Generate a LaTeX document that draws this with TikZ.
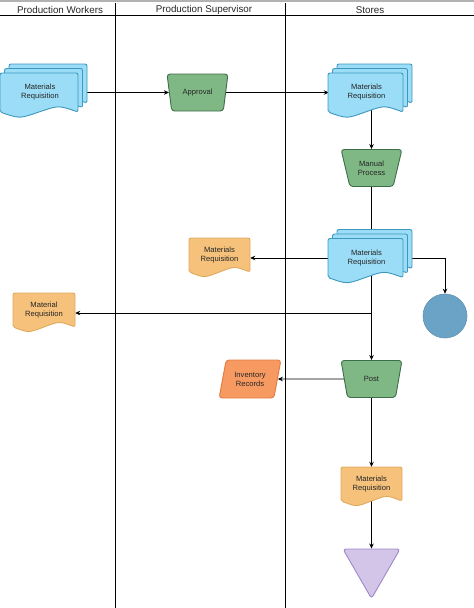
\documentclass[tikz,border=0pt]{standalone}
\usepackage{fontspec}
\setmainfont{Liberation Sans}
\usetikzlibrary{shapes.geometric,arrows.meta}

\definecolor{reqblue}{HTML}{9BDDF6}
\definecolor{reqblueline}{HTML}{3C98BE}
\definecolor{stepgreen}{HTML}{80B885}
\definecolor{stepgreenline}{HTML}{3D6E4A}
\definecolor{formorange}{HTML}{F6C27B}
\definecolor{formorangeline}{HTML}{DFA95E}
\definecolor{recorange}{HTML}{F79A62}
\definecolor{recorangeline}{HTML}{E27A3E}
\definecolor{fileblue}{HTML}{6BA3C6}
\definecolor{endpurple}{HTML}{D3C5E8}
\definecolor{endpurpleline}{HTML}{9E88C9}

\pgfdeclarelayer{background}
\pgfsetlayers{background,main}

\tikzset{
  lane/.style={draw=black, line width=0.8pt},
  lanetitle/.style={font=\fontsize{9.8}{11}\selectfont, text=black!85},
  label/.style={font=\fontsize{7.6}{9}\selectfont, align=center, text=black!85, inner sep=0pt},
  bluesheet/.style={fill=reqblue, draw=reqblueline, line width=0.9pt},
  orangesheet/.style={fill=formorange, draw=formorangeline, line width=0.9pt},
  manual/.style={trapezium, shape border rotate=180, trapezium stretches=true,
    trapezium left angle=69, trapezium right angle=69,
    minimum width=61pt, minimum height=37pt, rounded corners=3pt,
    fill=stepgreen, draw=stepgreenline, line width=0.9pt, label},
  records/.style={trapezium, trapezium stretches=true,
    trapezium left angle=72, trapezium right angle=108,
    minimum width=62pt, minimum height=38pt, rounded corners=3pt,
    fill=recorange, draw=recorangeline, line width=0.9pt, label},
  flow/.style={draw=black, line width=0.8pt, -{Stealth[length=5pt,width=4.5pt]}}
}

% sheet with a wavy lower edge: style, centre x, centre y, width, height
\newcommand{\paperdoc}[5]{%
  \pgfmathsetmacro\docL{#2-#4/2}%
  \pgfmathsetmacro\docR{#2+#4/2}%
  \pgfmathsetmacro\docC{#2}%
  \pgfmathsetmacro\docT{#3-#5/2}%
  \pgfmathsetmacro\docB{#3+#5/2}%
  \pgfmathsetmacro\docQ{#2+#4/4}%
  \pgfmathsetmacro\docP{#2-#4/4}%
  \pgfmathsetmacro\docU{#3+#5/2-0.17*#5}%
  \pgfmathsetmacro\docD{#3+#5/2+0.17*#5}%
  \draw[#1, rounded corners=2pt] (\docL,\docB) -- (\docL,\docT) -- (\docR,\docT)
    -- (\docR,\docB)
    .. controls (\docQ,\docU) .. (\docC,\docB)
    .. controls (\docP,\docD) .. (\docL,\docB) -- cycle;
}
% three sheets, the front one drawn last
\newcommand{\stackdoc}[5]{%
  \paperdoc{#1}{#2+9}{#3-9}{#4}{#5}%
  \paperdoc{#1}{#2+4.5}{#3-4.5}{#4}{#5}%
  \paperdoc{#1}{#2}{#3}{#4}{#5}%
}

\begin{document}
\begin{tikzpicture}[x=1pt, y=-1pt]
\useasboundingbox (0,0) rectangle (474,608);

% swim lanes
\draw[gray!60, line width=1.5pt] (0,0.75) -- (474,0.75);
\draw[lane] (0,15) -- (474,15);
\draw[lane] (115,3) -- (115,608);
\draw[lane] (285,3) -- (285,608);
\node[lanetitle] (hwork) at (60,10) {Production Workers};
\node[lanetitle] (hsup) at (204,10) {Production Supervisor};
\node[lanetitle] (hstore) at (370,10) {Stores};

% production workers
\stackdoc{bluesheet}{39}{92.5}{78}{39}
\node[label, minimum width=78pt, minimum height=39pt] (wreq) at (40,92.5) {Materials\\Requisition};
\paperdoc{orangesheet}{44}{310}{62}{34}
\node[label, minimum width=62pt, minimum height=34pt] (mat) at (44,310) {Material\\Requisition};

% production supervisor
\node[manual] (appr) at (197.5,92.5) {Approval};
\paperdoc{orangesheet}{219.5}{255}{61}{34}
\node[label, minimum width=61pt, minimum height=34pt] (sreqcopy) at (219.5,255) {Materials\\Requisition};
\node[records] (inv) at (250,379) {Inventory\\Records};

% stores
\stackdoc{bluesheet}{365.5}{92.5}{75}{39}
\node[label, minimum width=75pt, minimum height=39pt] (sreq) at (366.5,92.5) {Materials\\Requisition};
\node[manual] (man) at (371.5,168) {Manual\\Process};
\stackdoc{bluesheet}{365.5}{258}{75}{39}
\node[label, minimum width=75pt, minimum height=39pt] (dreq) at (366.5,258) {Materials\\Requisition};
\node[circle, minimum size=44pt, fill=fileblue, draw=fileblue!90!black, line width=0.6pt] (file) at (445,316) {};
\node[manual] (post) at (371.5,379) {Post};
\paperdoc{orangesheet}{371.5}{484}{61}{34}
\node[label, minimum width=61pt, minimum height=34pt] (oreq) at (371.5,484) {Materials\\Requisition};
\node[regular polygon, regular polygon sides=3, shape border rotate=180, minimum size=66pt,
  rounded corners=3pt, fill=endpurple, draw=endpurpleline, line width=0.9pt] (tri) at (371.5,565.5) {};

\begin{pgfonlayer}{background}
\coordinate (split) at (371.5,313);
\draw[flow] (wreq) -- (appr.west);
\draw[flow] (appr.east) -- (sreq.west);
\draw[flow] (sreq -| man) -- (man.north);
\draw[flow] (man.south) -- (dreq.north -| man);
\draw[flow] (dreq) -- (dreq -| sreqcopy.east);
\draw[flow] (dreq) -| (file.north);
\draw[flow] (dreq -| post) -- (post.north);
\draw[flow] (split) -- (split -| mat.east);
\draw[flow] (post.west) -- (inv.east);
\draw[flow] (post.south) -- (oreq.north);
\draw[flow] (oreq.south) -- (tri.north);
\end{pgfonlayer}
\end{tikzpicture}
\end{document}
